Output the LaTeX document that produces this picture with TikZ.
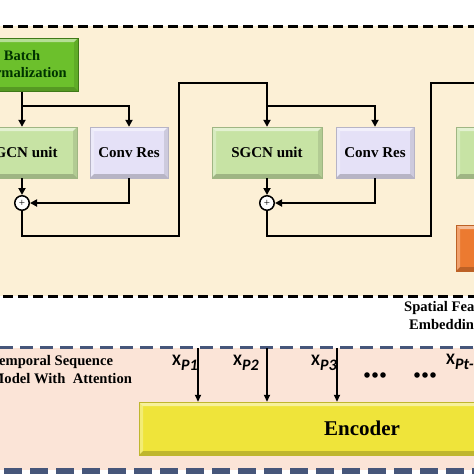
\documentclass[tikz,border=0pt]{standalone}
\usepackage{fontspec}
\setmainfont{Liberation Serif}
\newfontfamily\lblfont{Carlito}
\usetikzlibrary{arrows.meta,calc}
\definecolor{bgbeige}{HTML}{FCF0D6}
\definecolor{bgpink}{HTML}{FBE4D7}
\definecolor{bngreen}{HTML}{6CC02C}
\definecolor{bnedge}{HTML}{3F7A18}
\definecolor{sgreen}{HTML}{C7E3A4}
\definecolor{lav}{HTML}{E5E1F7}
\definecolor{orng}{HTML}{EC7A30}
\definecolor{yel}{HTML}{EFE43A}
\definecolor{dblue}{HTML}{46567A}
\tikzset{
  bevel/.style={path picture={
    \fill[white,opacity=.5] (path picture bounding box.north west) -- (path picture bounding box.north east)
      -- ([xshift=-#1,yshift=-#1]path picture bounding box.north east) -- ([xshift=#1,yshift=-#1]path picture bounding box.north west) -- cycle;
    \fill[white,opacity=.3] (path picture bounding box.north west) -- (path picture bounding box.south west)
      -- ([xshift=#1,yshift=#1]path picture bounding box.south west) -- ([xshift=#1,yshift=-#1]path picture bounding box.north west) -- cycle;
    \fill[black,opacity=.2] (path picture bounding box.south west) -- (path picture bounding box.south east)
      -- ([xshift=-#1,yshift=#1]path picture bounding box.south east) -- ([xshift=#1,yshift=#1]path picture bounding box.south west) -- cycle;
    \fill[black,opacity=.1] (path picture bounding box.north east) -- (path picture bounding box.south east)
      -- ([xshift=-#1,yshift=#1]path picture bounding box.south east) -- ([xshift=-#1,yshift=-#1]path picture bounding box.north east) -- cycle;
  }},
  unitbox/.style={inner sep=0pt, minimum width=110pt, minimum height=51pt, fill=sgreen,
    draw=sgreen!80!black, line width=0.4pt, bevel=4pt, font=\fontsize{15}{17}\bfseries\selectfont},
  resbox/.style={unitbox, minimum width=78pt, fill=lav, draw=lav!80!black},
  bnbox/.style={unitbox, minimum width=112pt, minimum height=53pt, fill=bngreen, draw=bnedge, line width=1pt,
    text=black!80!green, font=\fontsize{14.5}{17}\bfseries\selectfont, align=center},
  sumnode/.style={circle, draw, line width=1.5pt, fill=white, minimum size=14.5pt, inner sep=0pt,
    font=\fontsize{11}{11}\selectfont},
  wire/.style={line width=2.2pt},
  conn/.style={wire, -{Triangle[length=7pt,width=7pt]}},
  inarrow/.style={line width=1.7pt, -{Triangle[length=7pt,width=6pt]}},
  xlbl/.style={inner sep=0pt, anchor=west, font=\lblfont\fontsize{16}{18}\bfseries\selectfont},
  captext/.style={inner sep=0pt, anchor=west, align=left, font=\fontsize{14.6}{18}\bfseries\selectfont},
  dotmark/.style={fill=black},
}
\begin{document}
\begin{tikzpicture}[x=1pt,y=-1pt]
\useasboundingbox (0,0) rectangle (474,474);
\clip (0,0) rectangle (474,474);
% backgrounds
\fill[bgbeige] (0,26) rectangle (474,296);
\fill[bgpink] (0,348) rectangle (474,470);
\draw[line width=3pt, dash pattern=on 10pt off 5pt, dash phase=-3pt] (0,26) -- (474,26);
\draw[line width=3pt, dash pattern=on 10pt off 5pt, dash phase=-3pt] (0,296) -- (474,296);
\draw[dblue, line width=2.8pt, dash pattern=on 13pt off 7pt] (0,347.5) -- (474,347.5);
\draw[dblue, line width=6pt, dash pattern=on 18pt off 8pt, dash phase=-4pt] (0,471) -- (474,471);

% spatial block
\node[bnbox] (bn) at (22,64.5) {Batch\\Normalization};
\node[unitbox] (sg1) at (22,152.5) {SGCN unit};
\node[resbox] (cr1) at (129,152.5) {Conv Res};
\node[sumnode] (p1) at (22,203) {+};
\node[unitbox] (sg2) at (267,152.5) {SGCN unit};
\node[resbox] (cr2) at (375,152.5) {Conv Res};
\node[sumnode] (p2) at (267,203) {+};
\node[unitbox] (sg3) at (511,152.5) {};
\node[unitbox, fill=orng, draw=orng!80!black, minimum height=46pt] (tb) at (511,248) {};

\coordinate (b1) at (22,106);
\coordinate (b2) at (267,106);
\coordinate (c1) at (179,236);
\coordinate (c2) at (179,83);
\coordinate (c3) at (431,236);
\coordinate (c4) at (431,83);
\coordinate (c5) at (480,83);

\draw[conn] (bn.south) -- (sg1.north);
\draw[conn] (b1) -| (cr1.north);
\draw[conn] (sg1.south) -- (p1.north);
\draw[conn] (cr1.south) |- (p1.east);
\draw[conn] (p1.south) |- (c1) -- (c2) -| (sg2.north);
\draw[conn] (b2) -| (cr2.north);
\draw[conn] (sg2.south) -- (p2.north);
\draw[conn] (cr2.south) |- (p2.east);
\draw[wire] (p2.south) |- (c3) -- (c4) -- (c5);

% caption between blocks
\node[captext] (sfe1) at (404,308) {Spatial Feature};
\node[captext] (sfe2) at (409,326) {Embedding};

% temporal block
\node[captext] (ts) at (-9.5,370) {Temporal Sequence\\Model With\ \ Attention};
\node[unitbox, fill=yel, draw=yel!80!black, minimum width=446pt, minimum height=53pt,
  font=\fontsize{21}{24}\bfseries\selectfont] (enc) at (362,428.5) {Encoder};

\coordinate (t1) at (198,348);
\coordinate (t2) at (267,348);
\coordinate (t3) at (337,348);
\draw[inarrow] (t1) -- (t1 |- enc.north);
\draw[inarrow] (t2) -- (t2 |- enc.north);
\draw[inarrow] (t3) -- (t3 |- enc.north);
\node[xlbl] (x1) at (172,363) {X$_{\textbf{\textit{P1}}}$};
\node[xlbl] (x2) at (233,363) {X$_{\textbf{\textit{P2}}}$};
\node[xlbl] (x3) at (311,363) {X$_{\textbf{\textit{P3}}}$};
\node[xlbl] (x4) at (446,362) {X$_{\textbf{\textit{Pt-1}}}$};

\foreach \d in {367,375,383,417,425,433} \fill[dotmark] (\d,375) circle (2.8pt);
\end{tikzpicture}
\end{document}
